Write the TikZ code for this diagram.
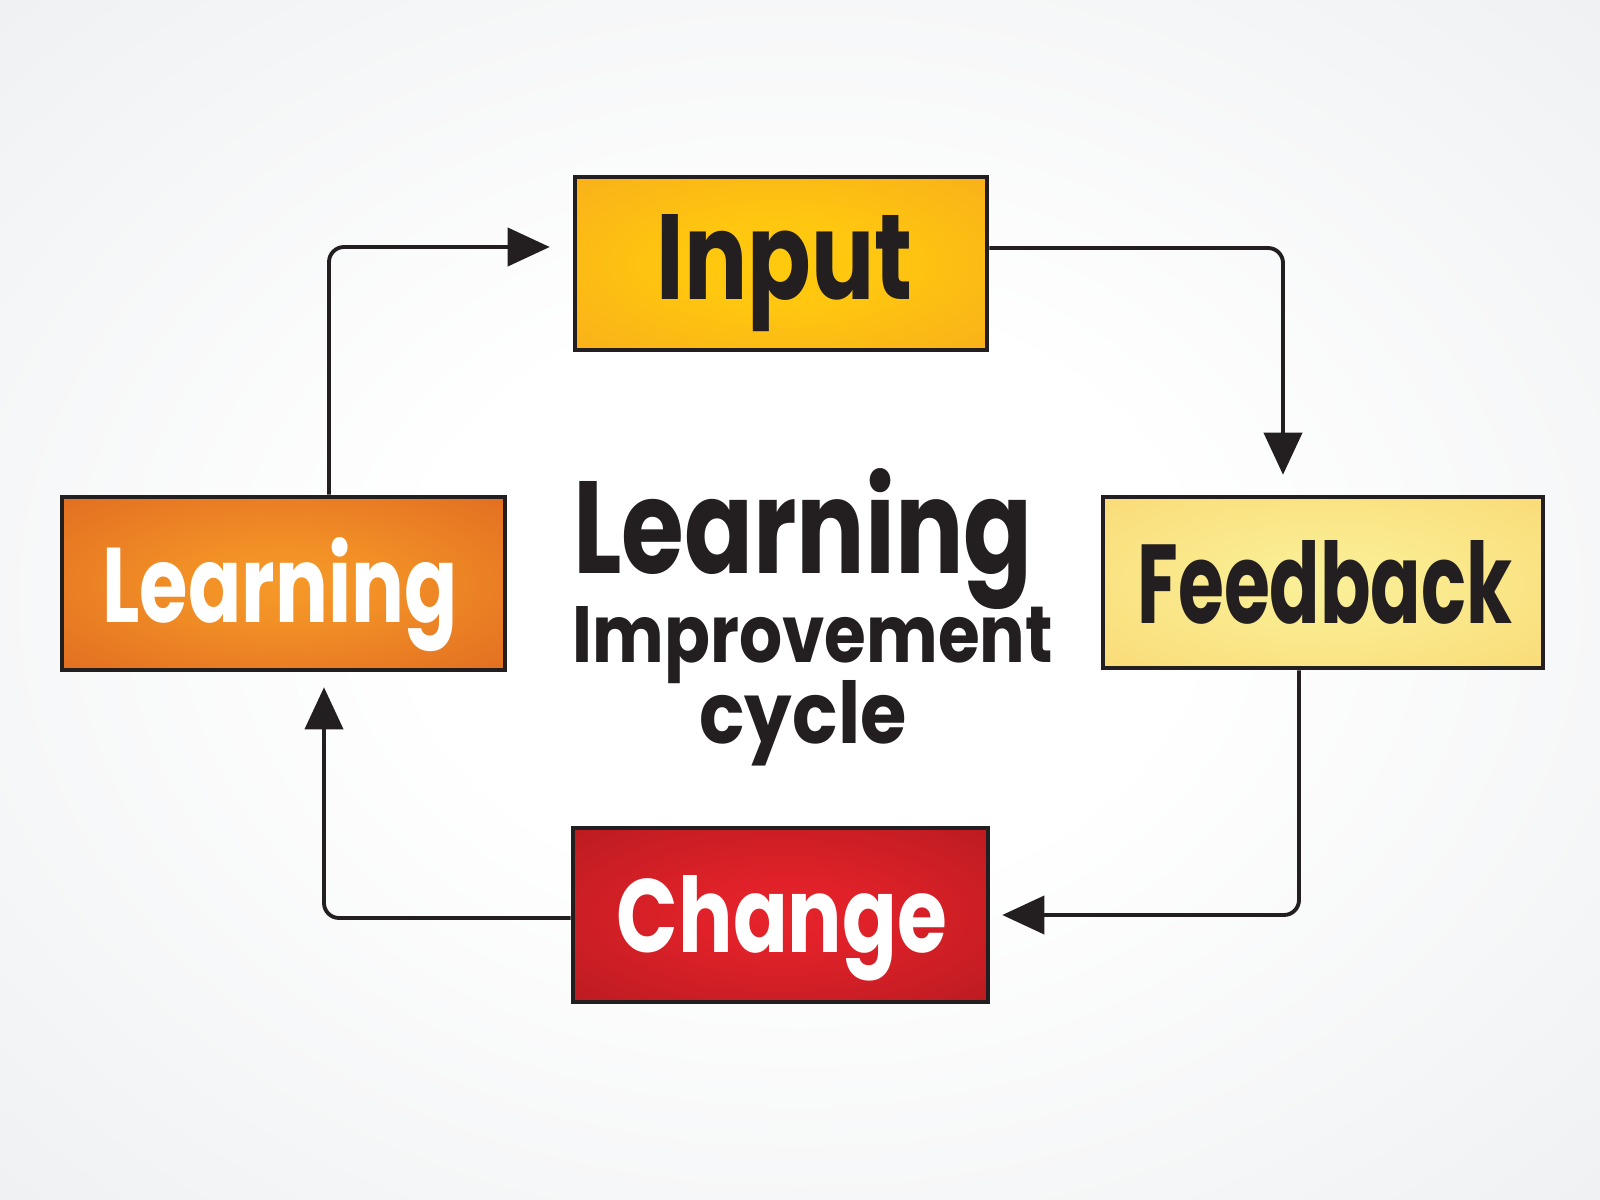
\documentclass[tikz,border=0pt]{standalone}
\usepackage{fontspec}
\setmainfont{Poppins}
\usetikzlibrary{arrows.meta}
\definecolor{ink}{HTML}{231F20}
\pgfdeclareradialshading{bgshade}{\pgfpoint{0bp}{0bp}}{rgb(0bp)=(1,1,1); rgb(12bp)=(1,1,1); rgb(50bp)=(0.90,0.91,0.92); rgb(72bp)=(0.84,0.85,0.87)}
\pgfdeclareradialshading{inputshade}{\pgfpoint{0bp}{0bp}}{rgb(0bp)=(1,0.79,0.05); rgb(12bp)=(1,0.78,0.06); rgb(55bp)=(0.96,0.62,0.13); rgb(72bp)=(0.96,0.62,0.13)}
\pgfdeclareradialshading{learnshade}{\pgfpoint{0bp}{0bp}}{rgb(0bp)=(0.96,0.60,0.16); rgb(10bp)=(0.95,0.57,0.15); rgb(55bp)=(0.84,0.33,0.12); rgb(72bp)=(0.84,0.33,0.12)}
\pgfdeclareradialshading{feedshade}{\pgfpoint{0bp}{0bp}}{rgb(0bp)=(0.98,0.94,0.60); rgb(12bp)=(0.98,0.92,0.56); rgb(55bp)=(0.98,0.81,0.40); rgb(72bp)=(0.98,0.81,0.40)}
\pgfdeclareradialshading{changeshade}{\pgfpoint{0bp}{0bp}}{rgb(0bp)=(0.90,0.14,0.17); rgb(10bp)=(0.88,0.13,0.16); rgb(55bp)=(0.63,0.09,0.11); rgb(72bp)=(0.63,0.09,0.11)}
\newcommand{\fitt}[3]{\resizebox{#1}{#2}{\bfseries #3}}
\begin{document}
\begin{tikzpicture}[x=0.1mm,y=-0.1mm,
  box/.style={rectangle, draw=ink, line width=1.3pt, inner sep=0pt},
  wtxt/.style={text=white, anchor=base, inner sep=0pt},
  btxt/.style={text=ink, anchor=base, inner sep=0pt},
  conn/.style={draw=ink, line width=1.1pt, rounded corners=1.5mm,
    -{Triangle[length=4.2mm,width=3.8mm]}}]
\useasboundingbox (0,0) rectangle (1600,1200);
\shade[shading=bgshade] (0,0) rectangle (1600,1200);

% boxes
\node[box, shading=inputshade, minimum width=41.2mm, minimum height=17.3mm] (Ibox) at (781,263.5) {};
\node[box, shading=learnshade, minimum width=44.3mm, minimum height=17.3mm] (Lbox) at (283.5,583.5) {};
\node[box, shading=feedshade, minimum width=44.0mm, minimum height=17.1mm] (Fbox) at (1323,582.5) {};
\node[box, shading=changeshade, minimum width=41.5mm, minimum height=17.4mm] (Cbox) at (780.5,915) {};

% box texts
\node[btxt] (Itxt) at (785,300) {\fitt{25.6mm}{8.5mm}{Input}};
\node[wtxt] (Ltxt) at (280,622) {\fitt{35.5mm}{8.5mm}{Learning}};
\node[btxt] (Ftxt) at (1325,623) {\fitt{37.5mm}{8.3mm}{Feedback}};
\node[wtxt] (Ctxt) at (782,952) {\fitt{33mm}{7.7mm}{Change}};

% central title
\node[btxt] (T1) at (803,573) {\fitt{46mm}{10.5mm}{Learning}};
\node[btxt] (T2) at (813,663) {\fitt{48mm}{5.6mm}{Improvement}};
\node[btxt] (T3) at (803,743) {\fitt{20.7mm}{6.3mm}{cycle}};

% connectors
\coordinate (a1) at (329,247);
\coordinate (a2) at (1283,248);
\coordinate (a3) at (1299,915);
\coordinate (a4) at (324,918);
\draw[conn, shorten >=2.3mm] (Lbox.north -| a1) -- (a1) -- (Ibox.west |- a1);
\draw[conn, shorten >=2mm] (Ibox.east |- a2) -- (a2) -- (Fbox.north -| a2);
\draw[conn, shorten >=1.2mm] (Fbox.south -| a3) -- (a3) -- (Cbox.east |- a3);
\draw[conn, shorten >=1.5mm] (Cbox.west |- a4) -- (a4) -- (Lbox.south -| a4);
\end{tikzpicture}
\end{document}
